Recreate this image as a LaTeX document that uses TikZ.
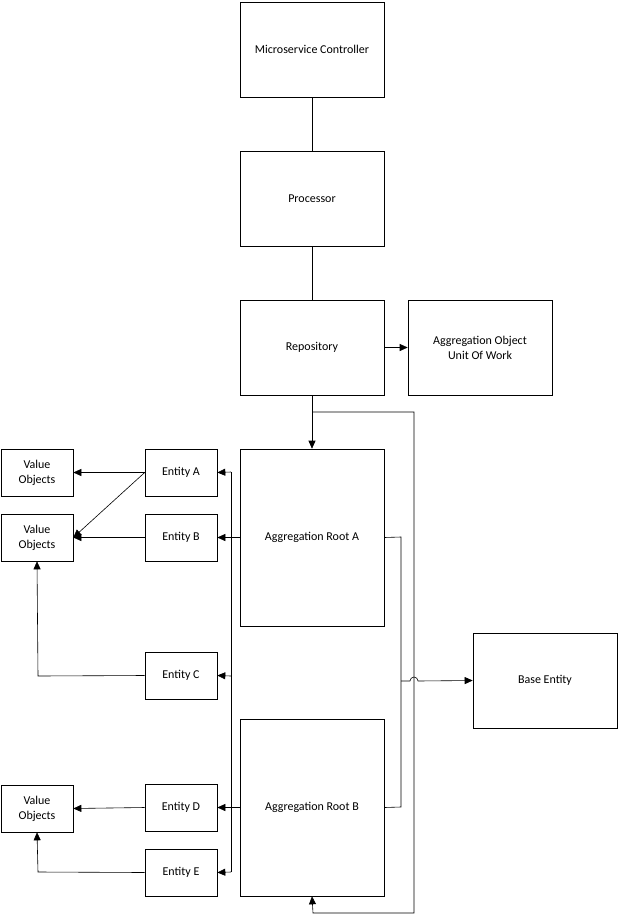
\documentclass[tikz,border=0pt]{standalone}
\usepackage{fontspec}
\setmainfont{Carlito}
\usetikzlibrary{arrows.meta}
\begin{document}
\begin{tikzpicture}[x=1pt,y=-1pt,
  box/.style={draw,semithick,align=center,font=\fontsize{12}{15}\selectfont,inner sep=0pt},
  ln/.style={semithick},
  ar/.style={semithick,-{Triangle[length=8pt,width=7pt]}}]
\useasboundingbox (0,0) rectangle (619,916);
\newcommand{\bx}[6]{\node[box,minimum width=#4-#2,minimum height=#5-#3] (#1) at ({(#2+#4)/2},{(#3+#5)/2}) {#6};}
\bx{mc}{240}{2}{384}{97}{Microservice Controller}
\bx{pr}{240}{151}{384}{246}{Processor}
\bx{re}{240}{300}{384}{395}{Repository}
\bx{uow}{408}{300}{552}{395}{Aggregation Object\\Unit Of Work}
\bx{vo1}{1}{449}{73}{496}{Value\\Objects}
\bx{vo2}{1}{514}{73}{561}{Value\\Objects}
\bx{vo3}{1}{785}{73}{832}{Value\\Objects}
\bx{ea}{145}{449}{217}{496}{Entity A}
\bx{eb}{145}{514}{217}{561}{Entity B}
\bx{ec}{145}{652}{217}{699}{Entity C}
\bx{ed}{145}{784}{217}{831}{Entity D}
\bx{ee}{145}{849}{217}{896}{Entity E}
\bx{ra}{240}{449}{384}{626}{Aggregation Root A}
\bx{rb}{240}{719}{384}{896}{Aggregation Root B}
\bx{be}{473}{633}{617}{728}{Base Entity}
\draw[ln] (mc) -- (pr);
\draw[ln] (pr) -- (re);
\draw[ar] (re) -- (uow);
\draw[ar] (re) -- (ra);
\coordinate (br) at (313,412);
\draw[ar] (br) -- (414,412) -- (414,913) -- (313,913) -- (rb.south);
% bus
\draw[ln] (231,472) -- (231,872);
\draw[ar] (231,472) -- (ea.east);
\draw[ar] (ra.west) -- (eb.east);
\draw[ar] (231,676) -- (ec.east);
\draw[ar] (rb.west) -- (ed.east);
\draw[ar] (231,872) -- (ee.east);
% right loop
\draw[ln] (ra.east) -- (401,537) -- (401,807) -- (rb.east);
\draw[ar] (401,681) -- (410,681) arc[start angle=180,end angle=360,radius=4] -- (be.west);
% value objects
\draw[ar] (ea.west) -- (vo1.east);
\draw[ar] (ea.west) -- (vo2.east);
\draw[ar] (eb.west) -- (vo2.east);
\draw[ar] (ec.west) -- (38,676) -- (vo2.south);
\draw[ar] (ed.west) -- (vo3.east);
\draw[ar] (ee.west) -- (38,872) -- (vo3.south);
\end{tikzpicture}
\end{document}
